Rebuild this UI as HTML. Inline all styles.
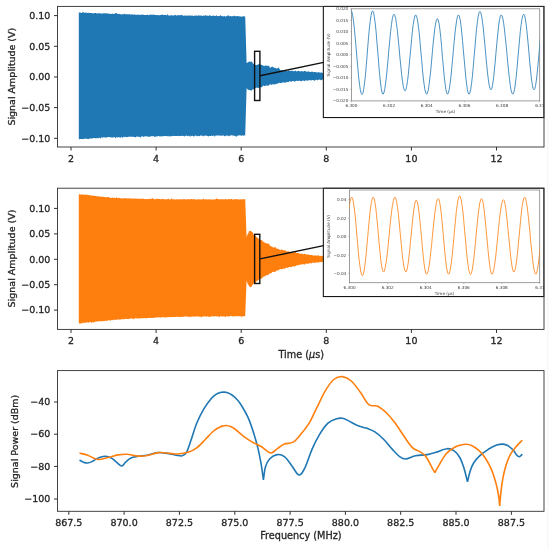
<!DOCTYPE html>
<html lang="en"><head><meta charset="utf-8"><title>Signal plots</title>
<style>html,body{margin:0;padding:0;background:#fff}body{width:550px;height:548px;overflow:hidden}svg text{white-space:pre;stroke:#262626;stroke-width:0.3px;font-family:"DejaVu Sans","Liberation Sans",sans-serif}svg .ins text{stroke:none}</style></head>
<body>
<svg width="550" height="548" viewBox="0 0 550 548" style="display:block">
<rect x="0" y="0" width="550" height="548" fill="#fff"/>
<line x1="547.8" y1="118" x2="547.8" y2="548" stroke="#f4f4f4" stroke-width="1"/>
<polygon fill="#1f77b4" points="78.8,12.4 79.6,12.5 80.4,12.6 81.2,12.9 82.0,13.0 82.8,11.5 83.6,12.5 84.4,12.9 85.2,12.5 86.0,12.8 86.8,12.7 87.6,13.0 88.4,12.8 89.2,13.1 90.0,13.1 90.8,12.9 91.6,13.0 92.4,13.2 93.2,13.4 94.0,13.2 94.8,12.9 95.6,13.0 96.4,13.2 97.2,13.5 98.0,13.5 98.8,13.1 99.6,13.2 100.4,13.4 101.2,13.5 102.0,13.6 102.8,13.4 103.6,13.2 104.4,13.2 105.2,13.4 106.0,13.3 106.8,13.3 107.6,13.6 108.4,13.5 109.2,14.0 110.0,13.4 110.8,13.9 111.6,13.9 112.4,13.6 113.2,14.0 114.0,13.8 114.8,13.7 115.6,12.9 116.4,12.9 117.2,13.7 118.0,14.0 118.8,14.1 119.6,14.0 120.4,14.3 121.2,14.4 122.0,13.9 122.8,14.4 123.6,14.2 124.4,13.4 125.2,14.5 126.0,14.1 126.8,14.2 127.6,14.3 128.4,14.6 129.2,14.0 130.0,14.6 130.8,14.5 131.6,14.6 132.4,14.3 133.2,14.7 134.0,14.5 134.8,14.6 135.6,14.8 136.4,14.9 137.2,14.6 138.0,14.8 138.8,14.8 139.6,15.0 140.4,14.7 141.2,14.7 142.0,14.6 142.8,14.7 143.6,14.8 144.4,15.1 145.2,15.0 146.0,15.1 146.8,15.1 147.6,14.5 148.4,15.2 149.2,15.1 150.0,14.8 150.8,14.6 151.6,14.7 152.4,14.8 153.2,14.7 154.0,14.6 154.8,14.9 155.6,14.9 156.4,15.0 157.2,15.2 158.0,14.9 158.8,15.2 159.6,15.3 160.4,14.9 161.2,15.0 162.0,14.2 162.8,15.0 163.6,15.1 164.4,14.9 165.2,14.8 166.0,15.1 166.8,15.4 167.6,14.0 168.4,15.4 169.2,15.4 170.0,15.4 170.8,15.5 171.6,14.9 172.4,15.5 173.2,15.4 174.0,15.4 174.8,15.0 175.6,15.1 176.4,15.6 177.2,15.4 178.0,15.0 178.8,15.2 179.6,15.2 180.4,15.2 181.2,15.1 182.0,14.8 182.8,15.7 183.6,15.7 184.4,15.4 185.2,15.4 186.0,15.7 186.8,15.5 187.6,15.4 188.4,15.7 189.2,15.6 190.0,15.4 190.8,15.5 191.6,15.8 192.4,15.4 193.2,15.9 194.0,15.9 194.8,15.3 195.6,15.7 196.4,15.4 197.2,15.8 198.0,15.5 198.8,15.4 199.6,15.5 200.4,15.4 201.2,15.4 202.0,16.0 202.8,15.7 203.6,15.6 204.4,15.8 205.2,15.6 206.0,15.1 206.8,15.9 207.6,15.4 208.4,16.1 209.2,15.6 210.0,15.1 210.8,15.9 211.6,16.1 212.4,15.7 213.2,15.6 214.0,15.7 214.8,15.9 215.6,15.9 216.4,15.2 217.2,16.1 218.0,16.3 218.8,15.9 219.6,16.1 220.4,15.0 221.2,16.2 222.0,15.8 222.8,16.3 223.6,16.4 224.4,16.0 225.2,16.4 226.0,16.4 226.8,16.0 227.6,15.8 228.4,15.0 229.2,16.4 230.0,16.1 230.8,16.1 231.6,16.4 232.4,15.9 233.2,16.5 234.0,15.4 234.8,16.1 235.6,16.3 236.4,16.2 237.2,16.1 238.0,16.1 238.8,16.5 239.6,16.2 240.4,16.5 241.2,16.4 242.0,16.7 242.8,16.3 243.6,16.3 244.4,16.6 245.2,16.2 246.6,63.1 247.4,62.7 248.2,62.2 249.0,61.4 249.8,61.7 250.6,61.7 251.4,61.5 252.2,61.9 253.0,63.4 253.8,64.0 254.6,64.7 255.4,65.1 256.2,64.9 257.0,65.1 257.8,64.6 258.6,64.3 259.4,63.9 260.2,64.6 261.0,64.9 261.8,64.8 262.6,65.2 263.4,65.8 264.2,66.3 265.0,65.4 265.8,65.6 266.6,65.7 267.4,66.0 268.2,65.5 269.0,66.0 269.8,67.6 270.6,67.7 271.4,67.1 272.2,66.6 273.0,67.1 273.8,67.5 274.6,68.1 275.4,67.8 276.2,68.5 277.0,68.5 277.8,68.0 278.6,67.6 279.4,68.8 280.2,69.9 281.0,70.4 281.8,69.9 282.6,70.5 283.4,70.9 284.2,71.1 285.0,70.4 285.8,71.0 286.6,71.1 287.4,71.2 288.2,70.4 289.0,70.5 289.8,71.0 290.6,71.0 291.4,70.7 292.2,70.4 293.0,71.3 293.8,71.2 294.6,71.0 295.4,70.6 296.2,71.5 297.0,71.3 297.8,70.9 298.6,70.8 299.4,71.2 300.2,71.6 301.0,71.2 301.8,70.9 302.6,71.5 303.4,71.6 304.2,71.1 305.0,70.9 305.8,71.2 306.6,71.8 307.4,71.7 308.2,71.2 309.0,71.4 309.8,72.0 310.6,72.1 311.4,71.7 312.2,71.6 313.0,72.1 313.8,72.2 314.6,72.0 315.4,71.9 316.2,72.3 317.0,72.5 317.8,72.5 318.6,72.1 319.4,72.6 320.2,72.8 321.0,72.6 321.8,72.6 322.6,72.9 323.4,73.4 324.2,72.9 325.0,72.4 325.8,73.1 325.8,79.7 325.0,80.2 324.2,80.5 323.4,79.6 322.6,79.5 321.8,79.8 321.0,80.5 320.2,79.7 319.4,79.5 318.6,79.8 317.8,80.3 317.0,80.3 316.2,79.6 315.4,80.3 314.6,80.8 313.8,80.5 313.0,80.1 312.2,79.9 311.4,80.5 310.6,80.2 309.8,80.2 309.0,80.0 308.2,80.5 307.4,80.8 306.6,80.4 305.8,80.2 305.0,80.7 304.2,81.2 303.4,80.4 302.6,80.6 301.8,81.0 301.0,81.3 300.2,80.9 299.4,80.6 298.6,81.1 297.8,81.1 297.0,80.7 296.2,80.8 295.4,81.4 294.6,81.4 293.8,81.2 293.0,80.9 292.2,81.1 291.4,81.9 290.6,81.4 289.8,81.1 289.0,81.8 288.2,82.3 287.4,82.0 286.6,82.2 285.8,81.9 285.0,82.9 284.2,82.6 283.4,82.5 282.6,82.2 281.8,82.9 281.0,83.1 280.2,82.9 279.4,82.8 278.6,83.1 277.8,83.8 277.0,83.6 276.2,83.9 275.4,84.3 274.6,84.5 273.8,84.5 273.0,83.9 272.2,84.4 271.4,84.9 270.6,84.2 269.8,84.5 269.0,85.0 268.2,85.9 267.4,85.4 266.6,85.4 265.8,85.6 265.0,86.0 264.2,85.9 263.4,85.6 262.6,86.4 261.8,87.0 261.0,87.4 260.2,87.3 259.4,87.2 258.6,88.1 257.8,87.9 257.0,87.5 256.2,87.7 255.4,88.0 254.6,88.8 253.8,89.2 253.0,89.3 252.2,89.8 251.4,90.7 250.6,90.2 249.8,90.2 249.0,89.8 248.2,90.0 247.4,89.0 246.6,88.3 245.2,135.5 244.4,135.3 243.6,135.7 242.8,135.6 242.0,135.3 241.2,136.0 240.4,135.3 239.6,135.3 238.8,135.5 238.0,135.8 237.2,135.6 236.4,136.9 235.6,136.2 234.8,135.8 234.0,135.8 233.2,135.5 232.4,135.5 231.6,135.3 230.8,135.3 230.0,136.0 229.2,135.6 228.4,136.4 227.6,135.6 226.8,135.6 226.0,135.4 225.2,136.5 224.4,136.0 223.6,135.4 222.8,135.6 222.0,135.6 221.2,136.0 220.4,135.5 219.6,135.5 218.8,135.5 218.0,135.4 217.2,135.6 216.4,135.4 215.6,135.6 214.8,136.7 214.0,135.4 213.2,135.8 212.4,135.9 211.6,135.6 210.8,136.0 210.0,135.9 209.2,135.9 208.4,136.5 207.6,136.1 206.8,135.8 206.0,135.4 205.2,135.7 204.4,135.6 203.6,136.4 202.8,135.7 202.0,135.7 201.2,135.6 200.4,135.5 199.6,136.2 198.8,136.1 198.0,135.7 197.2,136.6 196.4,135.7 195.6,135.5 194.8,135.8 194.0,136.8 193.2,136.1 192.4,135.7 191.6,136.2 190.8,135.6 190.0,136.9 189.2,135.8 188.4,135.7 187.6,136.2 186.8,135.8 186.0,135.6 185.2,136.1 184.4,136.6 183.6,136.0 182.8,135.8 182.0,136.0 181.2,135.8 180.4,136.0 179.6,136.2 178.8,135.7 178.0,135.9 177.2,136.1 176.4,136.0 175.6,135.9 174.8,135.9 174.0,136.1 173.2,135.8 172.4,136.2 171.6,136.0 170.8,136.3 170.0,136.4 169.2,136.2 168.4,136.2 167.6,136.3 166.8,136.1 166.0,136.3 165.2,136.0 164.4,136.1 163.6,136.2 162.8,136.1 162.0,136.6 161.2,136.6 160.4,136.2 159.6,136.4 158.8,136.0 158.0,136.0 157.2,136.4 156.4,136.6 155.6,136.5 154.8,136.9 154.0,136.4 153.2,136.0 152.4,136.2 151.6,136.2 150.8,136.2 150.0,136.7 149.2,136.7 148.4,136.7 147.6,136.4 146.8,136.6 146.0,136.3 145.2,136.2 144.4,136.4 143.6,136.9 142.8,136.4 142.0,136.2 141.2,136.5 140.4,137.7 139.6,136.9 138.8,136.4 138.0,136.9 137.2,136.5 136.4,136.4 135.6,137.4 134.8,137.0 134.0,136.9 133.2,136.7 132.4,136.8 131.6,136.8 130.8,136.8 130.0,136.8 129.2,136.6 128.4,136.9 127.6,137.1 126.8,137.2 126.0,137.0 125.2,136.7 124.4,137.2 123.6,136.6 122.8,138.0 122.0,137.2 121.2,136.8 120.4,137.9 119.6,137.3 118.8,137.3 118.0,137.3 117.2,137.4 116.4,136.9 115.6,138.4 114.8,137.3 114.0,136.9 113.2,137.4 112.4,137.6 111.6,137.4 110.8,137.2 110.0,137.6 109.2,137.1 108.4,137.1 107.6,137.1 106.8,137.7 106.0,137.3 105.2,137.7 104.4,137.2 103.6,137.3 102.8,137.6 102.0,137.8 101.2,137.3 100.4,138.7 99.6,137.7 98.8,137.8 98.0,138.5 97.2,137.9 96.4,138.2 95.6,138.3 94.8,138.3 94.0,138.1 93.2,138.0 92.4,138.4 91.6,138.6 90.8,138.4 90.0,138.5 89.2,138.5 88.4,139.2 87.6,138.9 86.8,138.8 86.0,138.8 85.2,138.6 84.4,138.8 83.6,139.2 82.8,138.9 82.0,139.0 81.2,139.0 80.4,139.0 79.6,139.3 78.8,139.1"/>
<polygon fill="#ff7f0e" points="78.8,194.2 79.6,194.3 80.4,194.7 81.2,194.2 82.0,194.7 82.8,194.2 83.6,195.0 84.4,194.4 85.2,194.7 86.0,194.7 86.8,194.8 87.6,195.0 88.4,195.0 89.2,194.9 90.0,195.4 90.8,195.4 91.6,195.4 92.4,195.8 93.2,195.4 94.0,195.8 94.8,195.9 95.6,195.7 96.4,196.3 97.2,196.4 98.0,196.2 98.8,196.0 99.6,196.7 100.4,196.5 101.2,196.7 102.0,196.4 102.8,197.1 103.6,196.7 104.4,197.1 105.2,197.3 106.0,197.3 106.8,197.3 107.6,196.9 108.4,197.1 109.2,197.5 110.0,197.6 110.8,197.9 111.6,198.0 112.4,197.4 113.2,198.0 114.0,197.6 114.8,197.9 115.6,198.2 116.4,197.1 117.2,198.0 118.0,198.2 118.8,197.8 119.6,197.9 120.4,198.2 121.2,198.2 122.0,198.5 122.8,198.2 123.6,198.5 124.4,198.2 125.2,198.0 126.0,198.2 126.8,198.6 127.6,198.6 128.4,198.3 129.2,198.6 130.0,198.5 130.8,198.3 131.6,198.8 132.4,198.4 133.2,198.4 134.0,198.9 134.8,197.9 135.6,198.8 136.4,198.4 137.2,198.7 138.0,198.8 138.8,198.7 139.6,198.6 140.4,198.9 141.2,198.8 142.0,198.8 142.8,198.7 143.6,198.8 144.4,199.0 145.2,199.2 146.0,199.1 146.8,198.9 147.6,199.0 148.4,199.2 149.2,199.1 150.0,198.6 150.8,198.9 151.6,198.8 152.4,198.1 153.2,198.8 154.0,199.1 154.8,199.3 155.6,199.2 156.4,198.7 157.2,198.9 158.0,198.8 158.8,198.9 159.6,199.1 160.4,199.3 161.2,199.3 162.0,198.7 162.8,198.9 163.6,199.3 164.4,199.3 165.2,199.3 166.0,199.4 166.8,199.3 167.6,199.0 168.4,198.8 169.2,199.2 170.0,199.4 170.8,199.4 171.6,198.0 172.4,199.3 173.2,199.6 174.0,198.9 174.8,199.5 175.6,199.4 176.4,199.3 177.2,199.2 178.0,199.6 178.8,199.2 179.6,199.5 180.4,199.3 181.2,199.1 182.0,199.5 182.8,199.4 183.6,199.1 184.4,199.0 185.2,199.6 186.0,199.5 186.8,199.2 187.6,199.6 188.4,199.0 189.2,199.3 190.0,199.6 190.8,199.0 191.6,199.0 192.4,199.6 193.2,199.0 194.0,199.1 194.8,199.5 195.6,199.4 196.4,199.6 197.2,199.4 198.0,199.5 198.8,199.0 199.6,199.4 200.4,199.4 201.2,199.5 202.0,199.2 202.8,199.5 203.6,198.6 204.4,199.6 205.2,199.6 206.0,199.1 206.8,199.6 207.6,199.6 208.4,199.5 209.2,199.0 210.0,199.5 210.8,199.4 211.6,199.5 212.4,199.5 213.2,199.6 214.0,199.4 214.8,199.4 215.6,199.3 216.4,198.3 217.2,199.1 218.0,199.0 218.8,199.3 219.6,199.2 220.4,199.6 221.2,199.1 222.0,199.6 222.8,199.0 223.6,199.6 224.4,199.6 225.2,199.1 226.0,199.0 226.8,199.6 227.6,199.4 228.4,199.1 229.2,199.2 230.0,199.2 230.8,199.1 231.6,199.0 232.4,199.6 233.2,199.6 234.0,199.6 234.8,199.2 235.6,199.0 236.4,199.3 237.2,199.2 238.0,199.2 238.8,199.6 239.6,199.6 240.4,199.2 241.2,199.6 242.0,199.2 242.8,199.2 243.6,199.2 244.4,199.3 245.2,199.1 246.6,237.4 247.4,234.4 248.2,233.4 249.0,231.3 249.8,230.7 250.6,231.0 251.4,231.4 252.2,232.1 253.0,233.1 253.8,235.2 254.6,235.4 255.4,235.4 256.2,236.5 257.0,237.5 257.8,238.1 258.6,238.8 259.4,239.5 260.2,240.1 261.0,240.3 261.8,240.1 262.6,240.9 263.4,241.7 264.2,242.6 265.0,242.6 265.8,243.2 266.6,243.3 267.4,243.7 268.2,243.6 269.0,243.8 269.8,245.4 270.6,246.1 271.4,246.4 272.2,246.4 273.0,247.6 273.8,247.6 274.6,247.2 275.4,247.1 276.2,248.2 277.0,248.7 277.8,248.8 278.6,248.8 279.4,249.4 280.2,250.2 281.0,249.7 281.8,249.3 282.6,249.9 283.4,250.3 284.2,250.5 285.0,250.1 285.8,250.8 286.6,251.4 287.4,251.4 288.2,251.1 289.0,251.7 289.8,251.8 290.6,252.2 291.4,251.5 292.2,251.7 293.0,252.3 293.8,252.8 294.6,252.0 295.4,252.0 296.2,252.8 297.0,253.1 297.8,253.0 298.6,253.0 299.4,253.6 300.2,254.0 301.0,253.8 301.8,253.3 302.6,254.1 303.4,254.6 304.2,253.8 305.0,253.9 305.8,254.1 306.6,254.9 307.4,254.6 308.2,254.3 309.0,254.8 309.8,255.0 310.6,255.1 311.4,255.0 312.2,255.0 313.0,255.5 313.8,255.7 314.6,255.3 315.4,255.2 316.2,255.9 317.0,255.6 317.8,255.3 318.6,255.5 319.4,256.0 320.2,256.3 321.0,255.5 321.8,255.9 322.6,256.1 323.4,256.6 324.2,255.7 325.0,255.9 325.8,256.2 325.8,261.6 325.0,261.9 324.2,262.3 323.4,261.6 322.6,261.7 321.8,262.0 321.0,262.3 320.2,261.9 319.4,262.1 318.6,262.6 317.8,262.8 317.0,262.5 316.2,262.2 315.4,262.7 314.6,263.0 313.8,262.7 313.0,262.5 312.2,262.8 311.4,263.5 310.6,263.4 309.8,263.1 309.0,263.3 308.2,263.8 307.4,264.0 306.6,263.5 305.8,263.6 305.0,264.4 304.2,264.5 303.4,264.2 302.6,264.1 301.8,264.4 301.0,264.8 300.2,264.4 299.4,264.7 298.6,265.0 297.8,265.5 297.0,265.2 296.2,265.6 295.4,266.1 294.6,266.8 293.8,266.3 293.0,266.3 292.2,266.5 291.4,267.2 290.6,267.0 289.8,266.9 289.0,267.0 288.2,267.8 287.4,267.8 286.6,267.7 285.8,267.7 285.0,268.5 284.2,269.0 283.4,268.5 282.6,268.7 281.8,269.6 281.0,269.2 280.2,269.0 279.4,269.4 278.6,269.9 277.8,270.4 277.0,270.6 276.2,270.7 275.4,271.8 274.6,271.9 273.8,271.8 273.0,271.7 272.2,272.2 271.4,272.9 270.6,273.4 269.8,273.3 269.0,274.2 268.2,274.9 267.4,275.2 266.6,275.0 265.8,275.5 265.0,276.3 264.2,276.6 263.4,276.8 262.6,277.6 261.8,278.5 261.0,278.8 260.2,278.6 259.4,278.6 258.6,280.0 257.8,280.4 257.0,280.9 256.2,281.4 255.4,283.0 254.6,283.2 253.8,283.0 253.0,284.6 252.2,285.6 251.4,286.7 250.6,287.2 249.8,286.9 249.0,286.1 248.2,284.4 247.4,283.2 246.6,280.3 245.2,316.0 244.4,316.2 243.6,315.9 242.8,316.8 242.0,315.9 241.2,317.4 240.4,316.0 239.6,316.0 238.8,316.6 238.0,316.3 237.2,316.1 236.4,316.5 235.6,316.0 234.8,316.3 234.0,316.4 233.2,316.3 232.4,316.6 231.6,316.1 230.8,316.1 230.0,316.1 229.2,316.5 228.4,316.6 227.6,316.7 226.8,316.0 226.0,316.2 225.2,317.6 224.4,316.3 223.6,316.4 222.8,316.3 222.0,316.7 221.2,316.1 220.4,316.1 219.6,317.5 218.8,316.2 218.0,316.7 217.2,316.3 216.4,316.5 215.6,316.1 214.8,316.5 214.0,316.2 213.2,316.4 212.4,316.3 211.6,316.4 210.8,316.2 210.0,317.2 209.2,316.7 208.4,316.8 207.6,316.3 206.8,316.7 206.0,316.5 205.2,316.3 204.4,316.6 203.6,316.4 202.8,316.6 202.0,316.8 201.2,317.6 200.4,316.5 199.6,316.7 198.8,316.6 198.0,316.8 197.2,316.3 196.4,316.2 195.6,316.9 194.8,316.3 194.0,316.8 193.2,316.4 192.4,316.8 191.6,316.7 190.8,316.4 190.0,317.5 189.2,316.5 188.4,316.7 187.6,316.7 186.8,316.6 186.0,316.5 185.2,316.6 184.4,316.4 183.6,316.7 182.8,316.8 182.0,316.9 181.2,316.9 180.4,316.7 179.6,317.0 178.8,316.9 178.0,317.1 177.2,316.7 176.4,316.8 175.6,316.9 174.8,316.9 174.0,317.1 173.2,317.0 172.4,317.3 171.6,317.1 170.8,317.0 170.0,317.1 169.2,317.4 168.4,316.9 167.6,316.9 166.8,317.4 166.0,317.3 165.2,317.5 164.4,317.5 163.6,317.0 162.8,317.0 162.0,317.6 161.2,317.6 160.4,317.6 159.6,317.3 158.8,317.4 158.0,317.6 157.2,317.3 156.4,317.4 155.6,317.4 154.8,317.7 154.0,317.7 153.2,317.8 152.4,317.9 151.6,317.9 150.8,317.9 150.0,317.7 149.2,318.1 148.4,318.0 147.6,317.9 146.8,318.1 146.0,318.8 145.2,318.0 144.4,317.9 143.6,318.3 142.8,318.0 142.0,318.2 141.2,318.2 140.4,318.3 139.6,318.4 138.8,318.4 138.0,318.4 137.2,318.3 136.4,318.6 135.6,318.2 134.8,318.4 134.0,318.4 133.2,319.6 132.4,318.4 131.6,318.4 130.8,318.6 130.0,318.7 129.2,318.8 128.4,319.1 127.6,319.0 126.8,318.9 126.0,319.0 125.2,318.7 124.4,319.0 123.6,319.4 122.8,319.3 122.0,319.1 121.2,319.6 120.4,319.6 119.6,319.8 118.8,319.3 118.0,319.4 117.2,319.8 116.4,319.8 115.6,319.7 114.8,319.7 114.0,319.7 113.2,319.9 112.4,320.3 111.6,320.0 110.8,320.5 110.0,320.5 109.2,320.5 108.4,320.1 107.6,320.8 106.8,320.9 106.0,320.5 105.2,321.0 104.4,321.1 103.6,321.2 102.8,320.9 102.0,320.9 101.2,321.8 100.4,321.2 99.6,321.1 98.8,321.6 98.0,321.2 97.2,321.5 96.4,321.8 95.6,321.6 94.8,321.9 94.0,322.5 93.2,322.2 92.4,322.1 91.6,323.2 90.8,322.1 90.0,322.1 89.2,322.5 88.4,322.8 87.6,322.3 86.8,322.5 86.0,322.4 85.2,323.0 84.4,322.6 83.6,323.0 82.8,322.8 82.0,322.9 81.2,324.1 80.4,323.2 79.6,323.6 78.8,323.3"/>
<rect x="254.6" y="51.3" width="5.3" height="49.2" fill="none" stroke="#111" stroke-width="1.4"/>
<line x1="260.0" y1="75.8" x2="323.6" y2="62.4" stroke="#111" stroke-width="1.45"/>
<rect x="254.6" y="234.3" width="5.2" height="49.2" fill="none" stroke="#111" stroke-width="1.4"/>
<line x1="260.0" y1="258.9" x2="323.6" y2="245.6" stroke="#111" stroke-width="1.45"/>
<clipPath id="c1"><rect x="322.3" y="5.4" width="222.3" height="113.2"/></clipPath>
<g clip-path="url(#c1)">
<rect x="323.3" y="6.4" width="220.7" height="111.2" fill="#fff" stroke="#111" stroke-width="1.15"/>
<rect x="351.4" y="8.8" width="188.3" height="92.1" fill="none" stroke="#858585" stroke-width="0.8"/>
<g class="ins" font-size="4.2" fill="#3a3a3a">
<line x1="349.9" y1="8.8" x2="351.4" y2="8.8" stroke="#888" stroke-width="0.4"/>
<text x="348.3" y="10.3" text-anchor="end">0.020</text>
<line x1="349.9" y1="20.3" x2="351.4" y2="20.3" stroke="#888" stroke-width="0.4"/>
<text x="348.3" y="21.8" text-anchor="end">0.015</text>
<line x1="349.9" y1="31.8" x2="351.4" y2="31.8" stroke="#888" stroke-width="0.4"/>
<text x="348.3" y="33.3" text-anchor="end">0.010</text>
<line x1="349.9" y1="43.3" x2="351.4" y2="43.3" stroke="#888" stroke-width="0.4"/>
<text x="348.3" y="44.8" text-anchor="end">0.005</text>
<line x1="349.9" y1="54.8" x2="351.4" y2="54.8" stroke="#888" stroke-width="0.4"/>
<text x="348.3" y="56.3" text-anchor="end">0.000</text>
<line x1="349.9" y1="66.3" x2="351.4" y2="66.3" stroke="#888" stroke-width="0.4"/>
<text x="348.3" y="67.8" text-anchor="end">−0.005</text>
<line x1="349.9" y1="77.8" x2="351.4" y2="77.8" stroke="#888" stroke-width="0.4"/>
<text x="348.3" y="79.3" text-anchor="end">−0.010</text>
<line x1="349.9" y1="89.3" x2="351.4" y2="89.3" stroke="#888" stroke-width="0.4"/>
<text x="348.3" y="90.8" text-anchor="end">−0.015</text>
<line x1="349.9" y1="100.8" x2="351.4" y2="100.8" stroke="#888" stroke-width="0.4"/>
<text x="348.3" y="102.3" text-anchor="end">−0.020</text>
<line x1="351.4" y1="100.9" x2="351.4" y2="102.4" stroke="#888" stroke-width="0.4"/>
<text x="351.4" y="106.9" text-anchor="middle">6.300</text>
<line x1="389.1" y1="100.9" x2="389.1" y2="102.4" stroke="#888" stroke-width="0.4"/>
<text x="389.1" y="106.9" text-anchor="middle">6.302</text>
<line x1="426.7" y1="100.9" x2="426.7" y2="102.4" stroke="#888" stroke-width="0.4"/>
<text x="426.7" y="106.9" text-anchor="middle">6.304</text>
<line x1="464.4" y1="100.9" x2="464.4" y2="102.4" stroke="#888" stroke-width="0.4"/>
<text x="464.4" y="106.9" text-anchor="middle">6.306</text>
<line x1="502.1" y1="100.9" x2="502.1" y2="102.4" stroke="#888" stroke-width="0.4"/>
<text x="502.1" y="106.9" text-anchor="middle">6.308</text>
<line x1="539.8" y1="100.9" x2="539.8" y2="102.4" stroke="#888" stroke-width="0.4"/>
<text x="539.8" y="106.9" text-anchor="middle">6.31</text>
<text x="445.6" y="112.6" text-anchor="middle">Time (μs)</text>
<text transform="translate(330.3,54.9) rotate(-90)" text-anchor="middle">Signal Amplitude (V)</text>
</g>
<clipPath id="c1i"><rect x="351.4" y="8.8" width="188.3" height="92.1"/></clipPath>
<path clip-path="url(#c1i)" d="M351.0,10.5L351.8,11.7L352.7,15.3L353.5,21.1L354.4,28.7L355.2,37.6L356.1,47.5L356.9,57.6L357.8,67.5L358.6,76.4L359.5,84.0L360.3,89.8L361.2,93.4L362.0,94.6L362.8,93.4L363.6,89.8L364.4,84.1L365.3,76.5L366.1,67.6L366.9,57.8L367.7,47.7L368.5,37.9L369.3,29.0L370.2,21.4L371.0,15.7L371.8,12.1L372.6,10.9L373.5,12.3L374.3,16.5L375.2,23.1L376.1,31.7L376.9,41.8L377.8,52.5L378.7,63.3L379.5,73.4L380.4,82.0L381.3,88.6L382.1,92.8L383.0,94.2L383.8,93.0L384.7,89.6L385.5,84.1L386.4,76.9L387.2,68.4L388.1,59.0L388.9,49.4L389.8,40.0L390.6,31.5L391.5,24.3L392.3,18.8L393.2,15.4L394.0,14.2L394.8,15.3L395.7,18.6L396.5,23.8L397.4,30.8L398.2,39.0L399.1,47.9L399.9,57.2L400.8,66.1L401.6,74.3L402.5,81.3L403.3,86.5L404.2,89.8L405.0,90.9L405.8,89.8L406.6,86.5L407.5,81.3L408.3,74.5L409.1,66.4L409.9,57.5L410.8,48.3L411.6,39.4L412.4,31.3L413.2,24.5L414.1,19.3L414.9,16.0L415.7,14.9L416.5,16.1L417.4,19.4L418.2,24.9L419.1,32.0L419.9,40.5L420.7,49.8L421.6,59.3L422.4,68.6L423.2,77.1L424.1,84.2L424.9,89.7L425.8,93.0L426.6,94.2L427.4,93.1L428.3,89.9L429.1,84.7L429.9,77.9L430.8,69.8L431.6,61.0L432.4,51.8L433.2,43.0L434.1,34.9L434.9,28.1L435.7,22.9L436.6,19.7L437.4,18.6L438.2,19.9L439.1,23.7L439.9,29.7L440.8,37.5L441.6,46.6L442.4,56.4L443.3,66.2L444.1,75.3L445.0,83.1L445.8,89.1L446.7,92.9L447.5,94.2L448.3,93.0L449.2,89.7L450.0,84.2L450.9,77.1L451.7,68.6L452.6,59.3L453.4,49.8L454.3,40.5L455.1,32.0L456.0,24.9L456.8,19.4L457.7,16.1L458.5,14.9L459.3,16.1L460.1,19.4L460.9,24.9L461.7,32.0L462.5,40.5L463.3,49.8L464.2,59.3L465.0,68.6L465.8,77.1L466.6,84.2L467.4,89.7L468.2,93.0L469.0,94.2L469.8,93.0L470.7,89.5L471.5,83.8L472.4,76.3L473.2,67.5L474.0,57.8L474.9,47.8L475.7,38.1L476.5,29.3L477.4,21.8L478.2,16.1L479.1,12.6L479.9,11.4L480.7,12.5L481.6,15.9L482.4,21.3L483.3,28.3L484.1,36.7L485.0,45.9L485.8,55.3L486.7,64.5L487.5,72.9L488.4,79.9L489.2,85.3L490.1,88.7L490.9,89.8L491.8,88.5L492.6,84.8L493.5,78.8L494.3,71.1L495.2,62.0L496.0,52.4L496.9,42.7L497.8,33.6L498.6,25.9L499.5,19.9L500.3,16.2L501.2,14.9L502.0,15.9L502.9,18.8L503.7,23.6L504.5,29.8L505.3,37.3L506.2,45.7L507.0,54.5L507.8,63.4L508.7,71.8L509.5,79.3L510.3,85.5L511.1,90.3L512.0,93.2L512.8,94.2L513.6,93.0L514.5,89.6L515.3,84.1L516.2,76.9L517.0,68.4L517.8,59.0L518.7,49.4L519.5,40.0L520.3,31.5L521.2,24.3L522.0,18.8L522.9,15.4L523.7,14.2L524.6,15.5L525.4,19.3L526.3,25.3L527.1,33.1L528.0,42.2L528.9,52.0L529.7,61.8L530.6,70.9L531.4,78.7L532.3,84.7L533.1,88.5L534.0,89.8L534.8,88.7L535.6,85.3L536.4,80.0L537.2,73.0L538.0,64.7L538.8,55.6L539.7,46.2L540.5,37.1L541.3,28.8L542.1,21.8L542.9,16.5L543.7,13.1L544.5,12.0" fill="none" stroke="#1f77b4" stroke-width="0.85" stroke-linejoin="round" opacity="0.95"/>
</g>
<clipPath id="c2"><rect x="322.3" y="187.2" width="222.3" height="110.4"/></clipPath>
<g clip-path="url(#c2)">
<rect x="323.3" y="188.2" width="220.7" height="108.4" fill="#fff" stroke="#111" stroke-width="1.15"/>
<rect x="349.4" y="190.0" width="190.3" height="92.7" fill="none" stroke="#858585" stroke-width="0.8"/>
<g class="ins" font-size="4.2" fill="#3a3a3a">
<line x1="347.9" y1="199.7" x2="349.4" y2="199.7" stroke="#888" stroke-width="0.4"/>
<text x="346.3" y="201.2" text-anchor="end">0.04</text>
<line x1="347.9" y1="218.3" x2="349.4" y2="218.3" stroke="#888" stroke-width="0.4"/>
<text x="346.3" y="219.8" text-anchor="end">0.02</text>
<line x1="347.9" y1="236.6" x2="349.4" y2="236.6" stroke="#888" stroke-width="0.4"/>
<text x="346.3" y="238.1" text-anchor="end">0.00</text>
<line x1="347.9" y1="255.1" x2="349.4" y2="255.1" stroke="#888" stroke-width="0.4"/>
<text x="346.3" y="256.6" text-anchor="end">−0.02</text>
<line x1="347.9" y1="273.7" x2="349.4" y2="273.7" stroke="#888" stroke-width="0.4"/>
<text x="346.3" y="275.2" text-anchor="end">−0.04</text>
<line x1="349.6" y1="282.7" x2="349.6" y2="284.2" stroke="#888" stroke-width="0.4"/>
<text x="349.6" y="289.4" text-anchor="middle">6.300</text>
<line x1="387.7" y1="282.7" x2="387.7" y2="284.2" stroke="#888" stroke-width="0.4"/>
<text x="387.7" y="289.4" text-anchor="middle">6.302</text>
<line x1="425.7" y1="282.7" x2="425.7" y2="284.2" stroke="#888" stroke-width="0.4"/>
<text x="425.7" y="289.4" text-anchor="middle">6.304</text>
<line x1="463.8" y1="282.7" x2="463.8" y2="284.2" stroke="#888" stroke-width="0.4"/>
<text x="463.8" y="289.4" text-anchor="middle">6.306</text>
<line x1="501.8" y1="282.7" x2="501.8" y2="284.2" stroke="#888" stroke-width="0.4"/>
<text x="501.8" y="289.4" text-anchor="middle">6.308</text>
<line x1="539.9" y1="282.7" x2="539.9" y2="284.2" stroke="#888" stroke-width="0.4"/>
<text x="539.9" y="289.4" text-anchor="middle">6.31</text>
<text x="444.6" y="294.8" text-anchor="middle">Time (μs)</text>
<text transform="translate(330.3,236.3) rotate(-90)" text-anchor="middle">Signal Amplitude (V)</text>
</g>
<clipPath id="c2i"><rect x="349.4" y="190.0" width="190.3" height="92.7"/></clipPath>
<path clip-path="url(#c2i)" d="M340.7,275.0L341.5,273.9L342.4,270.5L343.2,265.2L344.1,258.2L344.9,249.9L345.8,240.7L346.6,231.4L347.5,222.2L348.3,213.9L349.2,206.9L350.0,201.6L350.9,198.2L351.7,197.1L352.5,198.2L353.3,201.6L354.1,207.0L355.0,214.1L355.8,222.5L356.6,231.7L357.4,241.1L358.2,250.3L359.0,258.7L359.9,265.8L360.7,271.2L361.5,274.6L362.3,275.7L363.1,274.6L364.0,271.2L364.8,265.8L365.7,258.7L366.5,250.3L367.3,241.1L368.2,231.7L369.0,222.5L369.8,214.1L370.7,207.0L371.5,201.6L372.4,198.2L373.2,197.1L374.1,198.4L374.9,202.1L375.8,208.1L376.6,215.8L377.5,224.9L378.4,234.5L379.2,244.2L380.1,253.3L380.9,261.0L381.8,267.0L382.6,270.7L383.5,272.0L384.3,271.1L385.1,268.3L385.9,263.8L386.8,257.9L387.6,250.8L388.4,242.9L389.2,234.6L390.0,226.2L390.8,218.3L391.6,211.2L392.5,205.3L393.3,200.8L394.1,198.0L394.9,197.1L395.7,198.2L396.6,201.4L397.4,206.5L398.3,213.3L399.1,221.3L399.9,230.0L400.8,239.1L401.6,247.8L402.4,255.8L403.3,262.6L404.1,267.7L405.0,270.9L405.8,272.0L406.6,271.0L407.4,267.9L408.2,263.0L409.0,256.5L409.8,248.8L410.6,240.4L411.5,231.7L412.3,223.3L413.1,215.6L413.9,209.1L414.7,204.2L415.5,201.1L416.3,200.1L417.2,201.4L418.0,205.1L418.9,211.0L419.7,218.6L420.6,227.6L421.5,237.1L422.3,246.7L423.2,255.7L424.0,263.3L424.9,269.2L425.7,272.9L426.6,274.2L427.4,273.3L428.3,270.5L429.1,266.0L429.9,260.0L430.7,252.8L431.6,244.8L432.4,236.4L433.2,228.0L434.1,220.0L434.9,212.8L435.7,206.8L436.5,202.3L437.4,199.5L438.2,198.6L439.0,199.7L439.8,202.9L440.6,208.1L441.4,214.9L442.2,223.0L443.0,231.8L443.8,241.0L444.6,249.8L445.4,257.9L446.2,264.7L447.0,269.9L447.8,273.1L448.6,274.2L449.4,273.1L450.3,269.7L451.1,264.3L452.0,257.3L452.8,248.9L453.7,239.7L454.5,230.3L455.4,221.1L456.2,212.7L457.1,205.7L457.9,200.3L458.8,196.9L459.6,195.8L460.4,196.9L461.3,200.3L462.1,205.7L463.0,212.8L463.8,221.2L464.6,230.5L465.5,239.9L466.3,249.2L467.1,257.6L468.0,264.7L468.8,270.1L469.7,273.5L470.5,274.6L471.3,273.5L472.2,270.2L473.0,265.0L473.9,258.2L474.7,250.1L475.6,241.2L476.4,232.0L477.3,223.1L478.1,215.0L479.0,208.2L479.8,203.0L480.7,199.7L481.5,198.6L482.3,199.7L483.1,202.9L483.9,208.1L484.7,214.9L485.5,223.0L486.3,231.8L487.2,241.0L488.0,249.8L488.8,257.9L489.6,264.7L490.4,269.9L491.2,273.1L492.0,274.2L492.8,273.3L493.6,270.5L494.4,266.1L495.3,260.2L496.1,253.1L496.9,245.2L497.7,236.9L498.5,228.7L499.3,220.8L500.1,213.7L501.0,207.8L501.8,203.4L502.6,200.6L503.4,199.7L504.2,200.8L505.0,203.8L505.8,208.8L506.6,215.3L507.4,223.0L508.2,231.5L509.1,240.2L509.9,248.7L510.7,256.4L511.5,262.9L512.3,267.9L513.1,270.9L513.9,272.0L514.7,270.9L515.5,267.7L516.4,262.6L517.2,255.8L518.0,247.8L518.8,239.1L519.7,230.0L520.5,221.3L521.3,213.3L522.1,206.5L523.0,201.4L523.8,198.2L524.6,197.1L525.5,198.2L526.3,201.5L527.2,206.8L528.0,213.8L528.9,222.0L529.8,231.0L530.6,240.3L531.5,249.3L532.4,257.5L533.2,264.5L534.1,269.8L534.9,273.1L535.8,274.2L536.6,273.1L537.4,269.8L538.3,264.6L539.1,257.7L539.9,249.6L540.7,240.7L541.6,231.5L542.4,222.6L543.2,214.5L544.0,207.6L544.9,202.4L545.7,199.1L546.5,198.0" fill="none" stroke="#ff7f0e" stroke-width="0.85" stroke-linejoin="round" opacity="0.95"/>
</g>
<path d="M79.5,460.1C80.2,460.5 82.2,461.7 83.5,462.2C84.8,462.7 86.2,463.1 87.6,463.0C89.0,462.9 90.5,462.3 92.0,461.6C93.5,460.9 94.9,459.7 96.4,458.9C97.9,458.1 99.5,457.3 101.0,456.9C102.5,456.5 103.8,456.3 105.1,456.3C106.4,456.3 107.8,456.6 109.0,457.0C110.2,457.4 111.1,457.8 112.4,458.7C113.7,459.6 115.5,461.4 117.0,462.6C118.5,463.8 120.3,466.1 121.7,466.0C123.1,465.9 124.2,463.4 125.6,462.2C126.9,461.0 128.4,459.6 129.8,458.7C131.2,457.8 132.6,457.4 134.0,457.0C135.4,456.6 136.3,456.4 138.5,456.1C140.7,455.8 144.1,455.8 147.3,455.2C150.5,454.6 154.1,452.9 157.5,452.6C160.9,452.3 164.4,453.0 167.6,453.4C170.8,453.8 174.0,454.8 176.4,455.2C178.8,455.6 180.5,456.3 182.2,455.8C183.9,455.3 185.1,454.8 186.5,452.3C187.9,449.8 189.2,445.5 190.9,440.6C192.6,435.8 194.5,428.5 196.7,423.2C198.9,417.9 201.6,412.7 204.0,408.6C206.4,404.5 209.3,400.9 211.3,398.5C213.3,396.1 214.6,395.4 216.0,394.4C217.4,393.4 218.8,393.0 220.0,392.6C221.2,392.2 222.3,392.1 223.5,392.1C224.7,392.1 225.6,392.0 227.0,392.5C228.4,393.0 230.4,393.9 232.0,395.0C233.6,396.1 235.1,397.4 236.5,399.0C237.9,400.6 238.8,401.2 240.7,404.3C242.6,407.4 245.8,412.5 248.0,417.4C250.2,422.2 252.1,428.1 253.8,433.4C255.5,438.7 257.0,444.3 258.2,449.4C259.4,454.5 260.2,458.8 261.1,463.9C262.0,469.0 263.0,477.2 263.4,479.9M263.4,479.9C263.8,477.7 264.4,470.3 265.5,466.8C266.6,463.3 267.9,460.7 269.8,458.7C271.7,456.7 274.7,455.0 277.1,454.6C279.5,454.2 282.0,454.8 284.4,456.6C286.8,458.4 289.2,462.3 291.6,465.4C294.0,468.5 296.7,474.5 298.9,475.0C301.1,475.5 302.5,472.6 304.7,468.3C306.9,464.0 309.6,455.0 312.0,449.4C314.4,443.8 316.6,439.2 319.3,434.8C322.0,430.4 325.1,425.9 328.0,423.2C330.9,420.5 334.3,419.6 336.7,418.8C339.1,418.0 340.5,417.9 342.5,418.2C344.5,418.5 346.2,419.7 348.7,420.9C351.2,422.1 354.6,424.3 357.5,425.5C360.4,426.7 363.3,427.0 366.2,428.1C369.1,429.2 372.0,430.0 374.9,431.9C377.8,433.8 380.7,436.3 383.6,439.2C386.5,442.1 389.7,446.5 392.4,449.4C395.1,452.3 397.4,455.0 399.6,456.6C401.8,458.2 402.8,459.1 405.5,459.0C408.2,458.9 412.0,456.5 415.6,455.8C419.2,455.1 423.9,455.2 427.3,454.6C430.7,454.0 432.8,453.3 436.0,452.3C439.2,451.3 443.8,448.9 446.8,448.7C449.8,448.4 452.0,449.3 454.2,450.8C456.4,452.3 458.2,454.7 459.8,457.5C461.4,460.3 462.5,463.4 463.8,467.5C465.1,471.6 466.9,479.5 467.5,481.9M467.5,481.9C467.9,480.1 469.2,474.1 470.2,471.0C471.2,467.9 472.0,465.6 473.6,463.0C475.2,460.4 477.4,457.9 479.9,455.6C482.3,453.3 485.5,451.1 488.3,449.3C491.1,447.6 494.2,446.0 496.7,445.1C499.1,444.2 501.1,444.0 503.0,444.1C504.9,444.2 506.4,444.8 508.2,445.8C509.9,446.9 512.1,448.9 513.5,450.4C514.9,451.9 515.6,453.9 516.6,455.0C517.6,456.1 518.3,456.8 519.3,456.7C520.2,456.6 521.8,454.6 522.3,454.2" fill="none" stroke="#1f77b4" stroke-width="1.6" stroke-linejoin="round" stroke-linecap="butt"/>
<path d="M79.5,453.1C80.8,453.5 84.5,454.1 87.6,455.2C90.6,456.3 94.4,459.1 97.8,459.5C101.2,459.9 104.6,458.3 108.0,457.5C111.4,456.7 115.0,455.4 118.2,454.9C121.4,454.4 123.5,454.1 126.9,454.3C130.3,454.5 135.1,455.9 138.5,456.1C141.9,456.3 143.9,456.1 147.3,455.5C150.7,454.9 155.0,453.0 158.9,452.6C162.8,452.2 167.3,453.2 170.5,453.4C173.7,453.6 174.9,454.2 177.8,454.0C180.7,453.8 184.8,453.3 188.0,452.3C191.2,451.3 193.8,450.1 196.7,447.9C199.6,445.7 202.6,442.1 205.5,439.2C208.4,436.3 211.8,432.5 214.2,430.5C216.6,428.5 218.5,427.8 220.0,427.0C221.5,426.2 222.0,426.1 223.0,425.9C224.0,425.6 224.9,425.4 226.2,425.5C227.4,425.6 229.1,426.0 230.5,426.6C231.9,427.2 232.7,427.4 234.9,429.0C237.1,430.6 240.7,434.1 243.6,436.3C246.5,438.5 249.5,440.4 252.4,442.1C255.3,443.8 258.1,444.7 261.1,446.5C264.2,448.3 268.0,452.5 270.7,452.9C273.4,453.3 274.8,450.3 277.1,448.8C279.4,447.3 281.7,445.2 284.4,444.1C287.1,443.0 290.4,443.7 293.1,442.1C295.8,440.6 297.7,438.0 300.4,434.8C303.1,431.6 306.4,427.6 309.1,423.2C311.8,418.8 313.7,413.9 316.4,408.6C319.1,403.3 322.2,396.1 325.1,391.2C328.0,386.3 330.9,381.9 333.8,379.5C336.7,377.1 339.6,376.4 342.5,376.6C345.4,376.9 348.4,378.4 351.3,381.0C354.2,383.6 357.5,388.3 360.2,392.0C362.9,395.7 365.6,401.1 367.6,403.4C369.6,405.7 370.3,405.2 372.0,405.7C373.7,406.2 375.4,405.1 377.8,406.3C380.2,407.5 383.6,410.2 386.5,413.0C389.4,415.8 392.4,419.3 395.3,423.2C398.2,427.1 401.1,432.2 404.0,436.3C406.9,440.4 410.0,445.3 412.7,447.9C415.4,450.5 417.8,450.2 420.0,451.7C422.2,453.1 423.9,454.1 425.8,456.6C427.7,459.1 430.1,464.1 431.6,466.8C433.1,469.5 434.3,471.6 434.8,472.6M434.8,472.6C435.5,471.4 437.0,468.5 438.9,465.4C440.8,462.2 443.6,456.7 446.2,453.7C448.8,450.7 452.1,448.7 454.7,447.2C457.3,445.7 460.1,445.2 462.0,444.7C463.9,444.2 464.6,444.2 466.2,444.3C467.8,444.4 469.4,444.5 471.5,445.5C473.6,446.5 476.5,448.4 478.8,450.4C481.1,452.4 483.0,454.5 485.1,457.7C487.2,460.9 489.6,465.3 491.4,469.3C493.1,473.3 494.4,477.7 495.6,481.9C496.8,486.1 497.7,490.5 498.4,494.5C499.1,498.5 499.5,504.1 499.7,506.0M499.7,506.0C499.9,503.7 500.3,497.1 500.9,492.4C501.4,487.7 502.1,482.2 503.0,477.7C503.9,473.1 504.9,469.0 506.1,465.1C507.3,461.2 508.7,457.6 510.3,454.6C511.9,451.6 513.6,449.6 515.6,447.2C517.6,444.8 521.2,441.4 522.3,440.3" fill="none" stroke="#ff7f0e" stroke-width="1.6" stroke-linejoin="round" stroke-linecap="butt"/>
<rect x="57.5" y="6.4" width="486.5" height="140.6" fill="none" stroke="#303030" stroke-width="0.9"/>
<rect x="57.5" y="188.2" width="486.5" height="141.2" fill="none" stroke="#303030" stroke-width="0.9"/>
<rect x="57.5" y="370.6" width="486.5" height="140.7" fill="none" stroke="#303030" stroke-width="0.9"/>
<line x1="54.0" y1="15.6" x2="57.5" y2="15.6" stroke="#303030" stroke-width="1"/>
<text x="50.3" y="18.9" text-anchor="end" font-size="9.5" fill="#262626">0.10</text>
<line x1="54.0" y1="46.3" x2="57.5" y2="46.3" stroke="#303030" stroke-width="1"/>
<text x="50.3" y="49.5" text-anchor="end" font-size="9.5" fill="#262626">0.05</text>
<line x1="54.0" y1="77.0" x2="57.5" y2="77.0" stroke="#303030" stroke-width="1"/>
<text x="50.3" y="80.2" text-anchor="end" font-size="9.5" fill="#262626">0.00</text>
<line x1="54.0" y1="107.6" x2="57.5" y2="107.6" stroke="#303030" stroke-width="1"/>
<text x="50.3" y="110.8" text-anchor="end" font-size="9.5" fill="#262626">−0.05</text>
<line x1="54.0" y1="138.3" x2="57.5" y2="138.3" stroke="#303030" stroke-width="1"/>
<text x="50.3" y="141.6" text-anchor="end" font-size="9.5" fill="#262626">−0.10</text>
<line x1="54.0" y1="208.4" x2="57.5" y2="208.4" stroke="#303030" stroke-width="1"/>
<text x="50.3" y="211.7" text-anchor="end" font-size="9.5" fill="#262626">0.10</text>
<line x1="54.0" y1="233.9" x2="57.5" y2="233.9" stroke="#303030" stroke-width="1"/>
<text x="50.3" y="237.2" text-anchor="end" font-size="9.5" fill="#262626">0.05</text>
<line x1="54.0" y1="259.3" x2="57.5" y2="259.3" stroke="#303030" stroke-width="1"/>
<text x="50.3" y="262.6" text-anchor="end" font-size="9.5" fill="#262626">0.00</text>
<line x1="54.0" y1="284.7" x2="57.5" y2="284.7" stroke="#303030" stroke-width="1"/>
<text x="50.3" y="287.9" text-anchor="end" font-size="9.5" fill="#262626">−0.05</text>
<line x1="54.0" y1="310.1" x2="57.5" y2="310.1" stroke="#303030" stroke-width="1"/>
<text x="50.3" y="313.4" text-anchor="end" font-size="9.5" fill="#262626">−0.10</text>
<line x1="54.0" y1="402.0" x2="57.5" y2="402.0" stroke="#303030" stroke-width="1"/>
<text x="50.3" y="405.2" text-anchor="end" font-size="9.5" fill="#262626">−40</text>
<line x1="54.0" y1="434.2" x2="57.5" y2="434.2" stroke="#303030" stroke-width="1"/>
<text x="50.3" y="437.4" text-anchor="end" font-size="9.5" fill="#262626">−60</text>
<line x1="54.0" y1="466.4" x2="57.5" y2="466.4" stroke="#303030" stroke-width="1"/>
<text x="50.3" y="469.6" text-anchor="end" font-size="9.5" fill="#262626">−80</text>
<line x1="54.0" y1="499.0" x2="57.5" y2="499.0" stroke="#303030" stroke-width="1"/>
<text x="50.3" y="502.2" text-anchor="end" font-size="9.5" fill="#262626">−100</text>
<line x1="71.0" y1="147.0" x2="71.0" y2="150.5" stroke="#303030" stroke-width="1"/>
<text x="71.0" y="161.6" text-anchor="middle" font-size="9.5" fill="#262626">2</text>
<line x1="156.1" y1="147.0" x2="156.1" y2="150.5" stroke="#303030" stroke-width="1"/>
<text x="156.1" y="161.6" text-anchor="middle" font-size="9.5" fill="#262626">4</text>
<line x1="241.2" y1="147.0" x2="241.2" y2="150.5" stroke="#303030" stroke-width="1"/>
<text x="241.2" y="161.6" text-anchor="middle" font-size="9.5" fill="#262626">6</text>
<line x1="326.3" y1="147.0" x2="326.3" y2="150.5" stroke="#303030" stroke-width="1"/>
<text x="326.3" y="161.6" text-anchor="middle" font-size="9.5" fill="#262626">8</text>
<line x1="411.4" y1="147.0" x2="411.4" y2="150.5" stroke="#303030" stroke-width="1"/>
<text x="411.4" y="161.6" text-anchor="middle" font-size="9.5" fill="#262626">10</text>
<line x1="496.5" y1="147.0" x2="496.5" y2="150.5" stroke="#303030" stroke-width="1"/>
<text x="496.5" y="161.6" text-anchor="middle" font-size="9.5" fill="#262626">12</text>
<line x1="71.0" y1="329.4" x2="71.0" y2="332.9" stroke="#303030" stroke-width="1"/>
<text x="71.0" y="344.0" text-anchor="middle" font-size="9.5" fill="#262626">2</text>
<line x1="156.1" y1="329.4" x2="156.1" y2="332.9" stroke="#303030" stroke-width="1"/>
<text x="156.1" y="344.0" text-anchor="middle" font-size="9.5" fill="#262626">4</text>
<line x1="241.2" y1="329.4" x2="241.2" y2="332.9" stroke="#303030" stroke-width="1"/>
<text x="241.2" y="344.0" text-anchor="middle" font-size="9.5" fill="#262626">6</text>
<line x1="326.3" y1="329.4" x2="326.3" y2="332.9" stroke="#303030" stroke-width="1"/>
<text x="326.3" y="344.0" text-anchor="middle" font-size="9.5" fill="#262626">8</text>
<line x1="411.4" y1="329.4" x2="411.4" y2="332.9" stroke="#303030" stroke-width="1"/>
<text x="411.4" y="344.0" text-anchor="middle" font-size="9.5" fill="#262626">10</text>
<line x1="496.5" y1="329.4" x2="496.5" y2="332.9" stroke="#303030" stroke-width="1"/>
<text x="496.5" y="344.0" text-anchor="middle" font-size="9.5" fill="#262626">12</text>
<line x1="68.8" y1="511.3" x2="68.8" y2="514.8" stroke="#303030" stroke-width="1"/>
<text x="68.8" y="525.9" text-anchor="middle" font-size="9.5" fill="#262626">867.5</text>
<line x1="124.1" y1="511.3" x2="124.1" y2="514.8" stroke="#303030" stroke-width="1"/>
<text x="124.1" y="525.9" text-anchor="middle" font-size="9.5" fill="#262626">870.0</text>
<line x1="179.4" y1="511.3" x2="179.4" y2="514.8" stroke="#303030" stroke-width="1"/>
<text x="179.4" y="525.9" text-anchor="middle" font-size="9.5" fill="#262626">872.5</text>
<line x1="234.8" y1="511.3" x2="234.8" y2="514.8" stroke="#303030" stroke-width="1"/>
<text x="234.8" y="525.9" text-anchor="middle" font-size="9.5" fill="#262626">875.0</text>
<line x1="290.1" y1="511.3" x2="290.1" y2="514.8" stroke="#303030" stroke-width="1"/>
<text x="290.1" y="525.9" text-anchor="middle" font-size="9.5" fill="#262626">877.5</text>
<line x1="345.4" y1="511.3" x2="345.4" y2="514.8" stroke="#303030" stroke-width="1"/>
<text x="345.4" y="525.9" text-anchor="middle" font-size="9.5" fill="#262626">880.0</text>
<line x1="400.7" y1="511.3" x2="400.7" y2="514.8" stroke="#303030" stroke-width="1"/>
<text x="400.7" y="525.9" text-anchor="middle" font-size="9.5" fill="#262626">882.5</text>
<line x1="456.0" y1="511.3" x2="456.0" y2="514.8" stroke="#303030" stroke-width="1"/>
<text x="456.0" y="525.9" text-anchor="middle" font-size="9.5" fill="#262626">885.0</text>
<line x1="511.4" y1="511.3" x2="511.4" y2="514.8" stroke="#303030" stroke-width="1"/>
<text x="511.4" y="525.9" text-anchor="middle" font-size="9.5" fill="#262626">887.5</text>
<text transform="translate(15.0,76.7) rotate(-90)" text-anchor="middle" font-size="9.5" fill="#262626">Signal Amplitude (V)</text>
<text transform="translate(15.0,258.5) rotate(-90)" text-anchor="middle" font-size="9.5" fill="#262626">Signal Amplitude (V)</text>
<text transform="translate(17.6,441.3) rotate(-90)" text-anchor="middle" font-size="9.5" fill="#262626">Signal Power (dBm)</text>
<text x="301.2" y="358.2" text-anchor="middle" font-size="9.7" fill="#262626">Time (<tspan font-style="italic">μ</tspan>s)</text>
<text x="300.9" y="539.3" text-anchor="middle" font-size="9.7" fill="#262626">Frequency (MHz)</text>
</svg>
</body></html>
